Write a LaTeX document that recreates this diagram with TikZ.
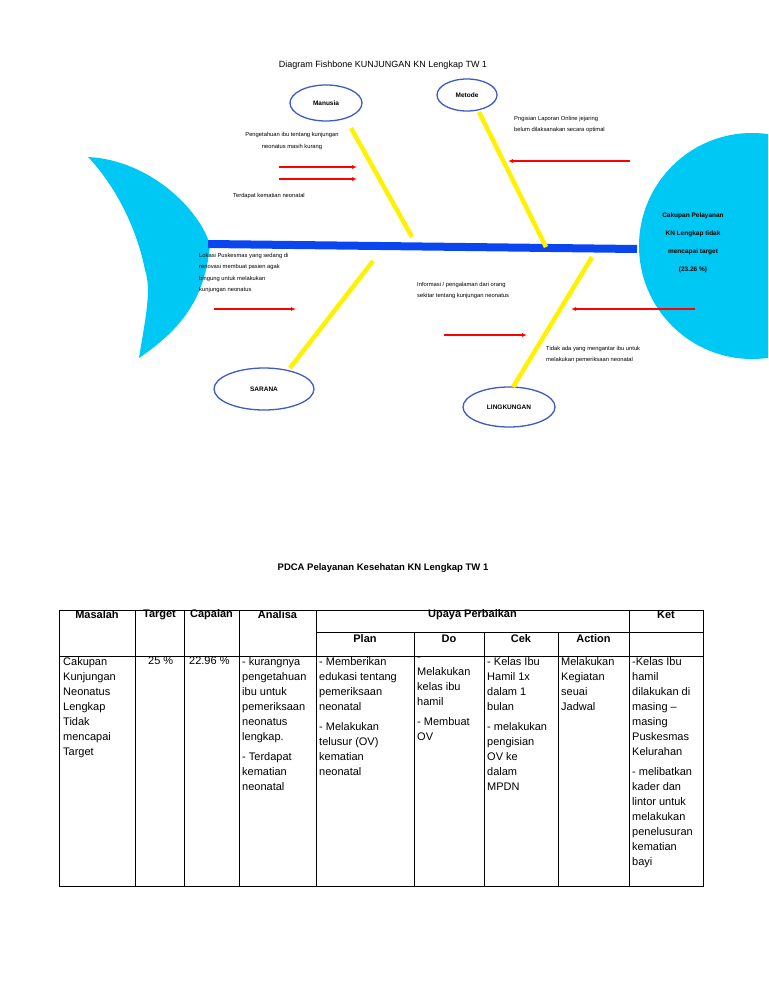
\documentclass[tikz,border=0pt]{standalone}
\usepackage{fontspec}
\setmainfont{Liberation Sans}
\usetikzlibrary{arrows.meta,shapes.geometric}
\definecolor{fishblue}{RGB}{0,200,245}
\definecolor{spine}{RGB}{10,70,240}
\definecolor{ell}{RGB}{60,90,200}
\tikzset{
  bone/.style={draw=yellow,line width=4.5pt},
  cause/.style={draw=red,line width=1.2pt,-{Latex[length=5pt,width=4pt]}},
  cat/.style={draw=ell,line width=1.3pt,ellipse,inner sep=0pt,font=\fontsize{6.5}{7}\selectfont\bfseries},
  small/.style={font=\fontsize{5.8}{11.5}\selectfont,inner sep=0pt,align=left},
  cell/.style={anchor=north west,inner sep=0pt,align=left,font=\fontsize{11}{15}\selectfont},
  hd/.style={inner sep=0pt,font=\fontsize{11}{13}\selectfont\bfseries},
  grid/.style={draw=black,line width=0.8pt}
}
\begin{document}
\begin{tikzpicture}[x=1pt,y=-1pt]
\useasboundingbox (0,0) rectangle (768,1006);
\node[font=\fontsize{9}{10}\selectfont] (title) at (383,65) {Diagram Fishbone KUNJUNGAN KN Lengkap TW 1};
% tail
\fill[fishblue] (88,157) .. controls (150,160) and (200,210) .. (210,245) .. controls (205,300) and (180,330) .. (139,358) .. controls (145,320) and (152,290) .. (145,270) .. controls (135,220) and (110,180) .. (88,157) -- cycle;
% head
\begin{scope}
\clip (630,120) rectangle (768,400);
\fill[fishblue] (752,246) circle (113);
\end{scope}
% spine
\coordinate (s1) at (208,244);
\coordinate (s2) at (637,249);
\draw[spine,line width=8pt] (s1) -- (s2);
% ellipses
\node[cat,minimum width=72,minimum height=36] (man) at (326,103) {Manusia};
\node[cat,minimum width=60,minimum height=32] (met) at (467,95) {Metode};
\node[cat,minimum width=100,minimum height=42] (sar) at (264,389) {SARANA};
\node[cat,minimum width=92,minimum height=40] (lin) at (509,407) {LINGKUNGAN};
% bones
\coordinate (b1) at (412,237); \coordinate (b2) at (546,247);
\coordinate (b3) at (373,261); \coordinate (b4) at (592,257);
\draw[bone] (351,128) -- (b1);
\draw[bone] (479,112) -- (b2);
\draw[bone] (b3) -- (290,368);
\draw[bone] (b4) -- (513,387);
% arrows
\coordinate (a1s) at (279,167); \coordinate (a1e) at (357,167);
\coordinate (a2s) at (279,179); \coordinate (a2e) at (357,179);
\coordinate (a3s) at (630,161); \coordinate (a3e) at (508,161);
\coordinate (a4s) at (214,309); \coordinate (a4e) at (296,309);
\coordinate (a5s) at (695,309); \coordinate (a5e) at (571,309);
\coordinate (a6s) at (444,335); \coordinate (a6e) at (527,335);
\draw[cause] (a1s) -- (a1e);
\draw[cause] (a2s) -- (a2e);
\draw[cause] (a3s) -- (a3e);
\draw[cause] (a4s) -- (a4e);
\draw[cause] (a5s) -- (a5e);
\draw[cause] (a6s) -- (a6e);
% texts
\node[small,align=center] (t1) at (292,141) {Pengetahuan ibu tentang kunjungan\\neonatus masih kurang};
\node[small,anchor=west] (t2) at (233,196) {Terdapat kematian neonatal};
\node[small,anchor=north west] (t3) at (514,116) {Pngisian Laporan Online jejaring\\belum dilaksanakan secara optimal};
\node[small,anchor=north west] (t4) at (199,253) {Lokasi Puskesmas yang sedang di\\renovasi membuat pasien agak\\bingung untuk melakukan\\kunjungan neonatus};
\node[small,anchor=north west] (t5) at (417,282) {Informasi / pengalaman dari orang\\sekitar tentang kunjungan neonatus};
\node[small,anchor=north west] (t6) at (546,346) {Tidak ada yang mengantar ibu untuk\\melakukan pemeriksaan neonatal};
\node[inner sep=0pt,align=center,font=\fontsize{6.5}{18}\selectfont\bfseries] (head) at (693,243) {Cakupan Pelayanan\\KN Lengkap tidak\\mencapai target\\(23.26 \%)};
% table
\node[font=\fontsize{9.5}{11}\selectfont\bfseries] (ttl) at (383,568) {PDCA Pelayanan Kesehatan KN Lengkap TW 1};
\draw[grid] (59.5,610) rectangle (703,886);
\draw[grid] (59.5,656) -- (703,656);
\draw[grid] (316,632) -- (703,632);
\foreach \x in {135,184,239,316,629} \draw[grid] (\x,610) -- (\x,886);
\foreach \x in {414,484,558} \draw[grid] (\x,632) -- (\x,886);
\node[hd] (h1) at (97,615) {Masalah};
\node[hd] (h2) at (159.5,615) {Target};
\node[hd] (h3) at (211.5,615) {Capaian};
\node[hd] (h4) at (277.5,615) {Analisa};
\node[hd] (h5) at (472.5,615) {Upaya Perbaikan};
\node[hd] (h6) at (666,615) {Ket};
\node[hd] (h7) at (365,639) {Plan};
\node[hd] (h8) at (449,639) {Do};
\node[hd] (h9) at (521,639) {Cek};
\node[hd] (h10) at (593.5,639) {Action};
\node[cell] (c1) at (63,657) {Cakupan\\Kunjungan\\Neonatus\\Lengkap\\Tidak\\mencapai\\Target};
\node[cell] (c2) at (148,657) {25 \%};
\node[cell] (c3) at (189,657) {22.96 \%};
\node[cell] (c4) at (242,657) {- kurangnya\\pengetahuan\\ibu untuk\\pemeriksaan\\neonatus\\lengkap.\\[5pt]- Terdapat\\kematian\\neonatal};
\node[cell] (c5) at (319,657) {- Memberikan\\edukasi tentang\\pemeriksaan\\neonatal\\[5pt]- Melakukan\\telusur (OV)\\kematian\\neonatal};
\node[cell] (c6) at (417,657) {-\\Melakukan\\kelas ibu\\hamil\\[5pt]- Membuat\\OV};
\node[cell] (c7) at (487,657) {- Kelas Ibu\\Hamil 1x\\dalam 1\\bulan\\[5pt]- melakukan\\pengisian\\OV ke\\dalam\\MPDN};
\node[cell] (c8) at (561,657) {Melakukan\\Kegiatan\\seuai\\Jadwal};
\node[cell] (c9) at (632,657) {-Kelas Ibu\\hamil\\dilakukan di\\masing --\\masing\\Puskesmas\\Kelurahan\\[5pt]- melibatkan\\kader dan\\lintor untuk\\melakukan\\penelusuran\\kematian\\bayi};
\end{tikzpicture}
\end{document}
